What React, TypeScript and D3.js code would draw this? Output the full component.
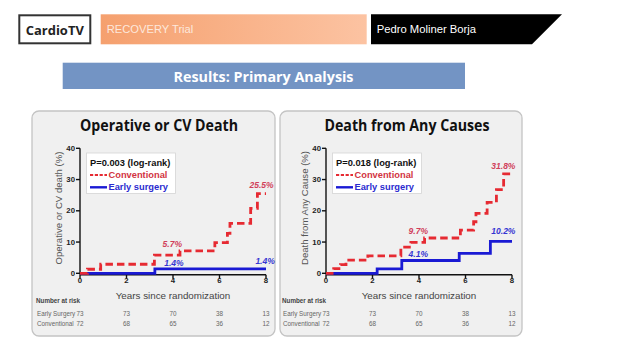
import React from 'react';
import * as d3 from 'd3';

// ---------- data ----------
const yearTicks = [0, 2, 4, 6, 8];
const pctTicks = [0, 10, 20, 30, 40];

// Operative or CV death (Kaplan-Meier cumulative incidence, %)
const cvConvYears = [0, 0.32, 0.89, 3.2, 4.3, 5.8, 6.34, 6.45, 7.34, 7.63, 8.0];
const cvConvPct = [0, 1.3, 2.9, 5.8, 7.2, 9.8, 12.8, 16.0, 20.8, 25.5, 25.5];
const cvEarlyYears = [0, 3.22, 8.0];
const cvEarlyPct = [0, 1.4, 1.4];

// Death from any cause
const dacConvYears = [0, 0.33, 0.62, 0.86, 1.8, 3.22, 3.65, 4.24, 5.78, 6.35, 6.45, 6.93, 7.33, 7.64, 8.0];
const dacConvPct = [0, 1.5, 2.8, 4.2, 5.6, 8.4, 9.9, 11.3, 13.8, 16.5, 19.2, 22.7, 26.8, 31.8, 31.8];
const dacEarlyYears = [0, 2.2, 3.26, 5.73, 7.07, 8.0];
const dacEarlyPct = [0, 1.4, 4.1, 6.4, 10.2, 10.2];

const cvLabels = [
  { text: '5.7%', year: 3.97, pct: 9.4, group: 'conv' },
  { text: '1.4%', year: 4.04, pct: 3.4, group: 'early' },
  { text: '25.5%', year: 7.81, pct: 28.3, group: 'conv' },
  { text: '1.4%', year: 7.96, pct: 4.0, group: 'early' },
];
const dacLabels = [
  { text: '9.7%', year: 3.97, pct: 13.5, group: 'conv' },
  { text: '4.1%', year: 3.97, pct: 6.2, group: 'early' },
  { text: '31.8%', year: 7.63, pct: 34.3, group: 'conv' },
  { text: '10.2%', year: 7.63, pct: 13.6, group: 'early' },
];

const riskGroups = ['Early Surgery', 'Conventional'];
const riskEarly = [73, 73, 70, 38, 13];
const riskConv = [72, 68, 65, 36, 12];

const legendNames = ['Conventional', 'Early surgery'];

// ---------- style ----------
const convColor = '#e62a32';
const earlyColor = '#1a1ad4';
const convText = '#d2343f';
const earlyText = '#2b2bcf';
const convLabelColor = '#d0405a';
const earlyLabelColor = '#3535d2';
const sans = '"Liberation Sans", Arial, sans-serif';
const humanist = '"Open Sans", "Noto Sans", sans-serif';

type Pt = [number, number];
const zip = (a: number[], b: number[]): Pt[] => a.map((v, i) => [v, b[i]]);

interface PanelProps {
  panelX: number;
  panelW: number;
  plotLeft: number;
  title: string;
  titleLen: number;
  yLabel: string;
  pText: string;
  conv: Pt[];
  early: Pt[];
  labels: { text: string; year: number; pct: number; group: string }[];
}

function Panel(p: PanelProps) {
  const panelY = 111;
  const panelH = 225;
  const x = d3.scaleLinear().domain([0, 8]).range([p.plotLeft, p.plotLeft + 186]);
  const y = d3.scaleLinear().domain([0, 40]).range([273.3, 148.3]);
  const line = d3
    .line<Pt>()
    .x((d) => x(d[0]))
    .y((d) => y(d[1]))
    .curve(d3.curveStepAfter);
  const L = p.plotLeft;
  const titleX = p.panelX + 127;
  return (
    <g>
      <rect x={p.panelX} y={panelY} width={p.panelW} height={panelH} rx={7} ry={7}
        fill="#f0f0f0" stroke="#c4c4c4" strokeWidth={1.3} />
      <text x={titleX} y={124.5} textAnchor="middle" dominantBaseline="central"
        fontFamily={humanist} fontWeight={700} fontSize={16} fill="#111"
        textLength={p.titleLen} lengthAdjust="spacingAndGlyphs">{p.title}</text>

      {/* y axis */}
      <line x1={L} x2={L} y1={y(0) + 1.5} y2={y(40)} stroke="#111" strokeWidth={1.4} />
      {pctTicks.map((t) => (
        <g key={'y' + t}>
          <line x1={L - 4} x2={L} y1={y(t)} y2={y(t)} stroke="#111" strokeWidth={1.4} />
          <text x={L - 5} y={y(t)} textAnchor="end" dominantBaseline="central"
            fontFamily={sans} fontWeight={700} fontSize={7.8} fill="#222">{t}</text>
        </g>
      ))}
      {/* x axis */}
      <line x1={L} x2={x(8)} y1={y(0) + 1.5} y2={y(0) + 1.5} stroke="#111" strokeWidth={1.4} />
      {yearTicks.map((t) => (
        <g key={'x' + t}>
          <line x1={x(t)} x2={x(t)} y1={y(0) + 1.5} y2={y(0) + 5.5} stroke="#111" strokeWidth={1.4} />
          <text x={x(t)} y={280.7} textAnchor="middle" dominantBaseline="central"
            fontFamily={sans} fontWeight={700} fontSize={7.8} fill="#222">{t}</text>
        </g>
      ))}
      <text x={x(4)} y={295.7} textAnchor="middle" dominantBaseline="central"
        fontFamily={sans} fontSize={9.8} fill="#444">Years since randomization</text>
      <text transform={`translate(${L - 21.5},208) rotate(-90)`} textAnchor="middle"
        dominantBaseline="central" fontFamily={sans} fontSize={9.6} fill="#555">{p.yLabel}</text>

      {/* curves */}
      <path d={line(p.early) || ''} fill="none" stroke={earlyColor} strokeWidth={2.8} />
      <path d={line(p.conv) || ''} fill="none" stroke={convColor} strokeWidth={2.8}
        strokeDasharray="7.5,4" />

      {p.labels.map((l, i) => (
        <text key={'l' + i} x={x(l.year)} y={y(l.pct)} textAnchor="middle" dominantBaseline="central"
          fontFamily={sans} fontWeight={700} fontStyle="italic" fontSize={8.5}
          fill={l.group === 'conv' ? convLabelColor : earlyLabelColor}>{l.text}</text>
      ))}

      {/* legend */}
      <rect x={L + 6.5} y={153} width={89} height={40.5} fill="#fff" stroke="#d4d4d4" strokeWidth={0.8} />
      <text x={L + 10} y={162.8} dominantBaseline="central" fontFamily={sans} fontWeight={700}
        fontSize={9.3} fill="#111">{p.pText}</text>
      <line x1={L + 10} x2={L + 27} y1={175} y2={175} stroke={convColor} strokeWidth={2.2}
        strokeDasharray="3.2,1.6" />
      <text x={L + 28.5} y={175} dominantBaseline="central" fontFamily={sans} fontWeight={700}
        fontSize={9.3} fill={convText}>{legendNames[0]}</text>
      <line x1={L + 10} x2={L + 27} y1={187.3} y2={187.3} stroke={earlyColor} strokeWidth={2.4} />
      <text x={L + 28.5} y={187.3} dominantBaseline="central" fontFamily={sans} fontWeight={700}
        fontSize={9.3} fill={earlyText}>{legendNames[1]}</text>

      {/* number at risk */}
      <text x={L - 44} y={300.7} dominantBaseline="central" fontFamily={sans} fontWeight={700}
        fontSize={6.3} fill="#444">Number at risk</text>
      {[riskEarly, riskConv].map((row, r) => (
        <g key={'r' + r}>
          <text x={L - 43} y={313.3 + r * 10} dominantBaseline="central" fontFamily={sans}
            fontSize={6.3} fill="#666">{riskGroups[r]}</text>
          {row.map((v, i) => (
            <text key={i} x={x(yearTicks[i])} y={313.3 + r * 10} textAnchor="middle"
              dominantBaseline="central" fontFamily={sans} fontSize={6.3} fill="#666">{v}</text>
          ))}
        </g>
      ))}
    </g>
  );
}

export default function App() {
  return (
    <svg width={638} height={359} style={{ position: 'absolute', left: 0, top: 0, background: '#fff' }}>
      <defs>
        <linearGradient id="orangeGrad" x1="0" x2="1" y1="0" y2="0">
          <stop offset="0" stopColor="#f5a06e" />
          <stop offset="1" stopColor="#fcc3a2" />
        </linearGradient>
      </defs>
      <rect x={0} y={0} width={638} height={359} fill="#fff" />
      {/* header */}
      <rect x={19.3} y={15.3} width={71} height={28} fill="#fff" stroke="#333" strokeWidth={2} />
      <text x={54.8} y={29.5} textAnchor="middle" dominantBaseline="central" fontFamily={humanist}
        fontWeight={700} fontSize={13} fill="#222" textLength={58} lengthAdjust="spacingAndGlyphs">CardioTV</text>
      <rect x={100.7} y={14.3} width={266} height={30} fill="url(#orangeGrad)" />
      <text x={106.7} y={29.3} dominantBaseline="central" fontFamily={sans} fontSize={11.2}
        fill="#fde8dc">RECOVERY Trial</text>
      <polygon points="371,14.3 562,14.3 532,44.3 371,44.3" fill="#000" />
      <text x={376.7} y={29.3} dominantBaseline="central" fontFamily={sans} fontSize={11.25}
        fill="#fff">Pedro Moliner Borja</text>

      {/* section bar */}
      <rect x={62.7} y={62.7} width={402.3} height={26.3} fill="#7394c4" />
      <text x={263.5} y={75.8} textAnchor="middle" dominantBaseline="central" fontFamily={humanist}
        fontWeight={700} fontSize={15} fill="#fff" textLength={180} lengthAdjust="spacingAndGlyphs">
        Results: Primary Analysis
      </text>

      <Panel panelX={32} panelW={243} plotLeft={80} title="Operative or CV Death" titleLen={158}
        yLabel="Operative or CV death (%)" pText="P=0.003 (log-rank)"
        conv={zip(cvConvYears, cvConvPct)} early={zip(cvEarlyYears, cvEarlyPct)} labels={cvLabels} />
      <Panel panelX={280} panelW={242} plotLeft={326} title="Death from Any Causes" titleLen={165}
        yLabel="Death from Any Cause (%)" pText="P=0.018 (log-rank)"
        conv={zip(dacConvYears, dacConvPct)} early={zip(dacEarlyYears, dacEarlyPct)} labels={dacLabels} />
    </svg>
  );
}
